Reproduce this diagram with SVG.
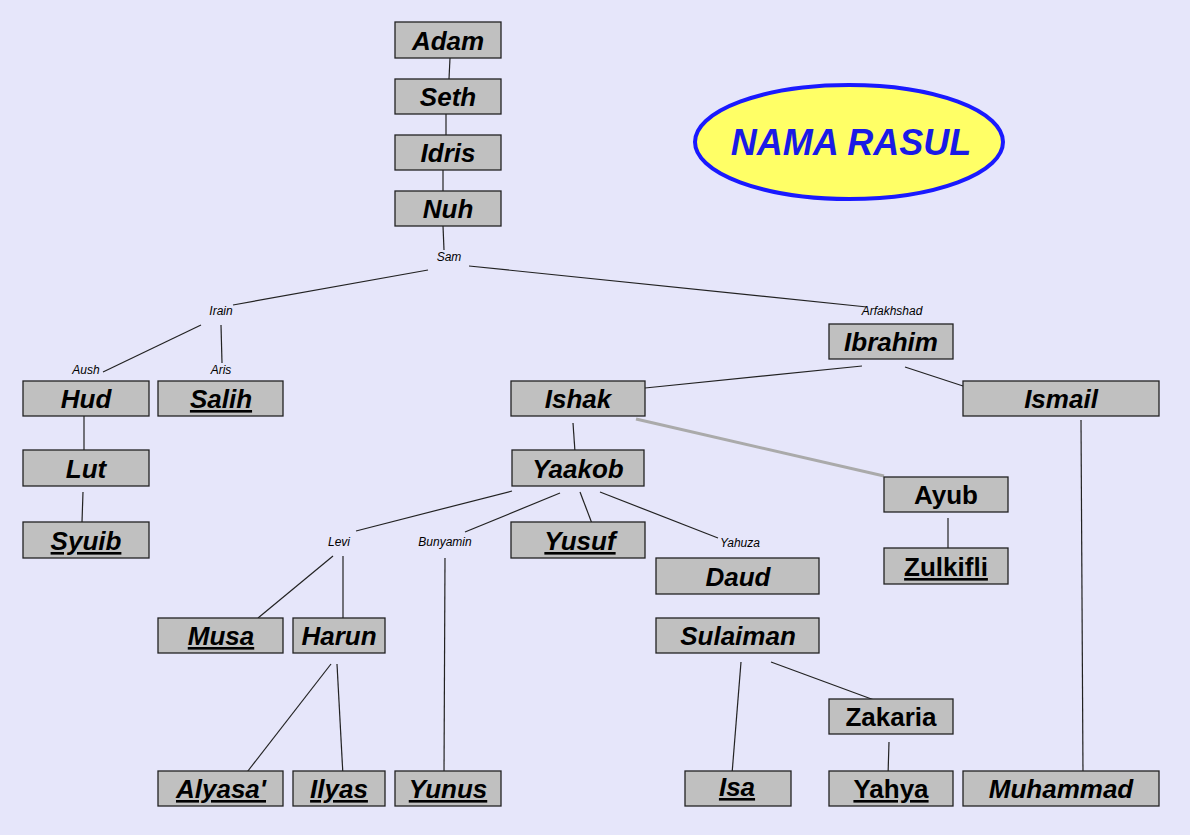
<svg xmlns="http://www.w3.org/2000/svg" width="1190" height="835" viewBox="0 0 1190 835">
<style>
.b{fill:#c0c0c0;stroke:#222;stroke-width:1.3}
.t{font-family:"Liberation Sans",Arial,sans-serif;font-weight:bold;font-style:italic;font-size:26px;fill:#000;text-anchor:middle}
.n{font-style:normal}
.u{text-decoration:underline}
.s{font-family:"Liberation Sans",Arial,sans-serif;font-style:italic;font-size:12px;fill:#000;text-anchor:middle}
#c line{stroke:#222;stroke-width:1.2}
</style>
<rect width="1190" height="835" fill="#e6e6fa"/>
<g id="c">
<line x1="450" y1="58" x2="449" y2="79"/><line x1="446" y1="114" x2="446" y2="135"/><line x1="443" y1="170" x2="443" y2="191"/><line x1="443" y1="226" x2="444" y2="250"/>
<line x1="428" y1="270" x2="233" y2="305"/><line x1="469" y1="266" x2="867" y2="307"/>
<line x1="201" y1="325" x2="103" y2="372"/><line x1="221" y1="325" x2="222" y2="363"/>
<line x1="862" y1="366" x2="645" y2="388"/><line x1="905" y1="367" x2="963" y2="386"/>
<line x1="84" y1="416" x2="84" y2="450"/><line x1="83" y1="492" x2="82" y2="522"/>
<line x1="573" y1="423" x2="575" y2="452"/>
<line x1="636" y1="419" x2="884" y2="476" style="stroke:#aaa;stroke-width:3"/>
<line x1="948" y1="518" x2="948" y2="548"/>
<line x1="512" y1="491" x2="356" y2="531"/><line x1="560" y1="493" x2="465" y2="532"/><line x1="580" y1="492" x2="596" y2="534"/><line x1="600" y1="492" x2="718" y2="538"/>
<line x1="333" y1="556" x2="258" y2="618"/><line x1="343" y1="556" x2="343" y2="618"/>
<line x1="331" y1="664" x2="244" y2="776"/><line x1="337" y1="664" x2="343" y2="776"/>
<line x1="445" y1="558" x2="444" y2="776"/>
<line x1="741" y1="662" x2="732" y2="774"/><line x1="771" y1="662" x2="885" y2="704"/>
<line x1="889" y1="742" x2="888" y2="776"/>
<line x1="1081" y1="420" x2="1083" y2="776"/>
</g>
<g id="title"><ellipse cx="849" cy="142" rx="154" ry="57" fill="#ffff66" stroke="#1a1aff" stroke-width="4"/><text x="851" y="155" class="t" style="font-size:36px;fill:#1a1ae6">NAMA  RASUL</text></g>
<g id="labels">
<text class="s" x="449" y="261">Sam</text><text class="s" x="221" y="315">Irain</text><text class="s" x="892" y="315">Arfakhshad</text>
<text class="s" x="86" y="374">Aush</text><text class="s" x="221" y="374">Aris</text>
<text class="s" x="339" y="546">Levi</text><text class="s" x="445" y="546">Bunyamin</text><text class="s" x="740" y="547">Yahuza</text>
</g>
<g id="adam"><rect class="b" x="395" y="22" width="106" height="36"/><text class="t" x="448" y="50">Adam</text></g>
<g id="seth"><rect class="b" x="395" y="79" width="106" height="35"/><text class="t" x="448" y="106">Seth</text></g>
<g id="idris"><rect class="b" x="395" y="135" width="106" height="35"/><text class="t" x="448" y="162">Idris</text></g>
<g id="nuh"><rect class="b" x="395" y="191" width="106" height="35"/><text class="t" x="448" y="218">Nuh</text></g>
<g id="ibrahim"><rect class="b" x="829" y="324" width="124" height="35"/><text class="t" x="891" y="351">Ibrahim</text></g>
<g id="hud"><rect class="b" x="23" y="381" width="126" height="35"/><text class="t" x="86" y="408">Hud</text></g>
<g id="salih"><rect class="b" x="158" y="381" width="125" height="35"/><text class="t u" x="221" y="408">Salih</text></g>
<g id="ishak"><rect class="b" x="511" y="381" width="134" height="35"/><text class="t" x="578" y="408">Ishak</text></g>
<g id="ismail"><rect class="b" x="963" y="381" width="196" height="35"/><text class="t" x="1061" y="408">Ismail</text></g>
<g id="lut"><rect class="b" x="23" y="450" width="126" height="36"/><text class="t" x="86" y="478">Lut</text></g>
<g id="yaakob"><rect class="b" x="512" y="450" width="132" height="36"/><text class="t" x="578" y="478">Yaakob</text></g>
<g id="ayub"><rect class="b" x="884" y="477" width="124" height="35"/><text class="t n" x="946" y="504">Ayub</text></g>
<g id="syuib"><rect class="b" x="23" y="522" width="126" height="36"/><text class="t u" x="86" y="550">Syuib</text></g>
<g id="yusuf"><rect class="b" x="511" y="522" width="134" height="36"/><text class="t u" x="580" y="550">Yusuf</text></g>
<g id="zulkifli"><rect class="b" x="884" y="548" width="124" height="36"/><text class="t n u" x="946" y="576">Zulkifli</text></g>
<g id="daud"><rect class="b" x="656" y="558" width="163" height="36"/><text class="t" x="738" y="586">Daud</text></g>
<g id="musa"><rect class="b" x="158" y="618" width="125" height="35"/><text class="t u" x="221" y="645">Musa</text></g>
<g id="harun"><rect class="b" x="293" y="618" width="92" height="35"/><text class="t" x="339" y="645">Harun</text></g>
<g id="sulaiman"><rect class="b" x="656" y="618" width="163" height="35"/><text class="t" x="738" y="645">Sulaiman</text></g>
<g id="zakaria"><rect class="b" x="829" y="699" width="124" height="35"/><text class="t n" x="891" y="726">Zakaria</text></g>
<g id="alyasa"><rect class="b" x="158" y="771" width="125" height="35"/><text class="t u" x="221" y="798">Alyasa'</text></g>
<g id="ilyas"><rect class="b" x="293" y="771" width="92" height="35"/><text class="t u" x="339" y="798">Ilyas</text></g>
<g id="yunus"><rect class="b" x="395" y="771" width="106" height="35"/><text class="t u" x="448" y="798">Yunus</text></g>
<g id="isa"><rect class="b" x="685" y="771" width="106" height="35"/><text class="t u" x="737" y="796">Isa</text></g>
<g id="yahya"><rect class="b" x="829" y="771" width="124" height="35"/><text class="t n u" x="891" y="798">Yahya</text></g>
<g id="muhammad"><rect class="b" x="963" y="771" width="196" height="35"/><text class="t" x="1061" y="798">Muhammad</text></g>
</svg>
